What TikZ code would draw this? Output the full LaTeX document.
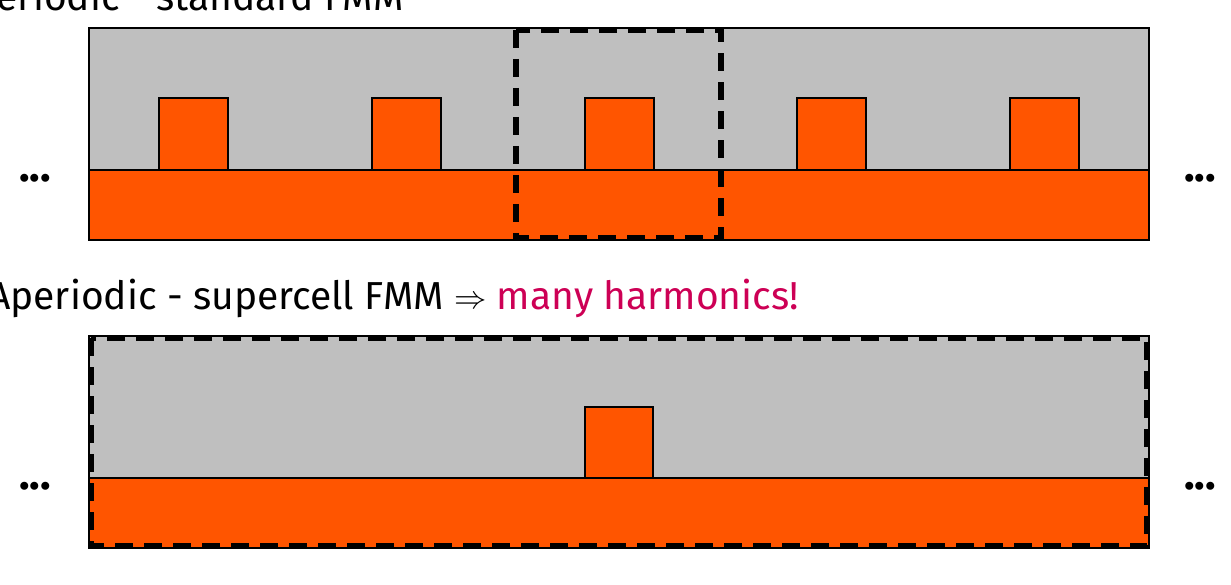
\documentclass[tikz,border=0pt]{standalone}
\usepackage{fontspec}
\setmainfont{Fira Sans}
\definecolor{org}{RGB}{255,85,0}
\definecolor{gry}{RGB}{191,191,191}
\definecolor{mag}{RGB}{205,0,85}
\begin{document}
\begin{tikzpicture}[x=1pt,y=-1pt,
  panel/.style={fill=gry,draw=black,line width=2.5pt},
  base/.style={fill=org,draw=black,line width=1.5pt},
  dbox/.style={draw=black,line width=6pt,dash pattern=on 18pt off 11pt},
  lbl/.style={font=\fontsize{39}{40}\selectfont,inner sep=0pt,anchor=base west},
  dots/.style={font=\fontsize{44}{44}\selectfont\bfseries}]
\useasboundingbox (0,0) rectangle (1231,585);
% top
\path[panel] (89,28) rectangle (1149,240);
\path[base] (89,170) rectangle (1149,240);
\foreach \x in {159,372,585,797,1010}{\path[base] (\x,98) rectangle (\x+69,170);}
\draw[black,line width=2.5pt] (89,28) rectangle (1149,240);
\draw[dbox] (516,30) rectangle (721,238);
\node[lbl] (t1) at (-25,11) {Periodic - standard FMM};
\node[dots] (d1) at (35,178) {...};
\node[dots] (d2) at (1200,178) {...};
% bottom
\node[lbl] (t2) at (-12,309) {Aperiodic - supercell FMM \raisebox{1pt}{\scalebox{1.3}{$\Rightarrow$}} \textcolor{mag}{many harmonics!}};
\path[panel] (89,336) rectangle (1149,548);
\path[base] (89,478) rectangle (1149,548);
\path[base] (585,407) rectangle (653,478);
\draw[black,line width=2pt] (89,336) rectangle (1149,548);
\draw[dbox] (91,338) rectangle (1147,546);
\node[dots] (d3) at (35,486) {...};
\node[dots] (d4) at (1200,486) {...};
\end{tikzpicture}
\end{document}
